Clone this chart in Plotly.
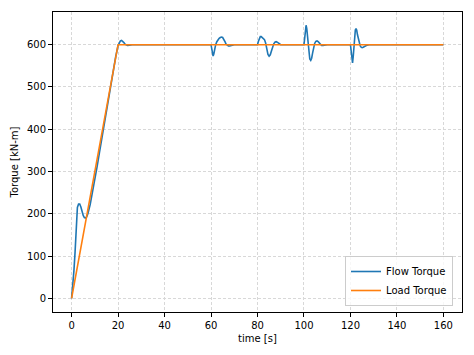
import plotly.graph_objects as go

# ---------------- data ----------------
flow_t = [0, 0.5, 1, 1.5, 2, 2.5, 3, 3.5, 4, 4.5, 5, 5.5, 6, 6.5, 7, 8, 9, 10, 11, 12, 13, 14,
          15, 16, 17, 18, 19, 20, 20.5, 21, 21.5, 22, 22.5, 23, 24, 25, 26,
          60, 60.3, 60.6, 60.9, 61.2, 61.6, 62, 62.5, 63, 63.5, 64, 64.5, 65, 65.5, 66, 66.5,
          67, 67.5, 68, 68.5, 69, 70, 71,
          80, 80.4, 80.8, 81.2, 81.6, 82, 82.5, 83, 83.5, 84, 84.5, 85, 85.5, 86, 86.5, 87,
          87.5, 88, 88.5, 89, 89.5, 90, 91,
          100, 100.3, 100.6, 100.9, 101.2, 101.5, 101.8, 102.1, 102.5, 102.9, 103.3, 103.7,
          104.1, 104.6, 105.1, 105.6, 106.1, 106.6, 107.1, 107.6, 108.2, 109, 110,
          120, 120.3, 120.6, 120.9, 121.2, 121.5, 121.8, 122.1, 122.4, 122.7, 123, 123.4,
          123.8, 124.2, 124.6, 125, 125.5, 126, 126.6, 127.2, 128, 129,
          160]
flow_v = [0, 25, 65, 110, 185, 215, 223, 223, 216, 205, 196, 191, 190, 193, 200, 222, 250, 280,
          312, 345, 378, 410, 442, 474, 507, 540, 572, 598, 605, 609, 610, 608, 605, 601, 598, 599, 600,
          600, 588, 576, 573, 578, 590, 600, 607, 612, 615, 617, 618, 617, 613, 607, 601,
          598, 597, 597, 598, 599, 600, 600,
          600, 608, 616, 619, 619, 617, 615, 612, 604, 590, 577, 573, 576, 585, 595, 602,
          606, 607, 606, 604, 602, 600, 600,
          600, 615, 638, 646, 638, 618, 596, 578, 566, 563, 568, 580,
          593, 603, 608, 609, 607, 603, 600, 598, 598, 599, 600,
          600, 585, 560, 557, 572, 600, 622, 635, 638, 634, 624, 612,
          603, 597, 594, 593, 594, 596, 598, 599, 600, 600,
          600]

load_t = [0, 20, 160]
load_v = [0, 600, 600]

x_ticks = [0, 20, 40, 60, 80, 100, 120, 140, 160]
y_ticks = [0, 100, 200, 300, 400, 500, 600]

# ---------------- figure ----------------
fig = go.Figure()
fig.add_trace(go.Scatter(x=flow_t, y=flow_v, mode="lines", name="Flow Torque",
                         line=dict(color="#1f77b4", width=1.6)))
fig.add_trace(go.Scatter(x=load_t, y=load_v, mode="lines", name="Load Torque",
                         line=dict(color="#ff7f0e", width=1.6)))

axis_common = dict(
    showline=True, linecolor="black", linewidth=1, mirror=True,
    ticks="outside", ticklen=4, tickcolor="black", tickwidth=1,
    showgrid=True, gridcolor="#d8d8d8", griddash="3px,2px", gridwidth=1,
    zeroline=False, tickfont=dict(size=10, color="black"), automargin=False,
)

fig.update_layout(
    width=474, height=355,
    margin=dict(l=53, r=12, t=12, b=43, autoexpand=False),
    paper_bgcolor="white", plot_bgcolor="white",
    font=dict(family="DejaVu Sans", size=10, color="black"),
    xaxis=dict(range=[-8, 168], tickvals=x_ticks,
               title=dict(text="time [s]", font=dict(size=10), standoff=4), **axis_common),
    yaxis=dict(range=[-32.3, 677.3], tickvals=y_ticks,
               title=dict(text="Torque [kN-m]", font=dict(size=10), standoff=6), **axis_common),
    legend=dict(x=0.978, y=0.02, xanchor="right", yanchor="bottom",
                bgcolor="rgba(255,255,255,0.8)", bordercolor="#cccccc", borderwidth=1,
                font=dict(size=10), tracegroupgap=0, itemwidth=30),
    showlegend=True,
)

fig.write_html("out.html", config={"displayModeBar": False},
               post_script="document.body.style.margin='0';document.body.style.overflow='hidden';")
